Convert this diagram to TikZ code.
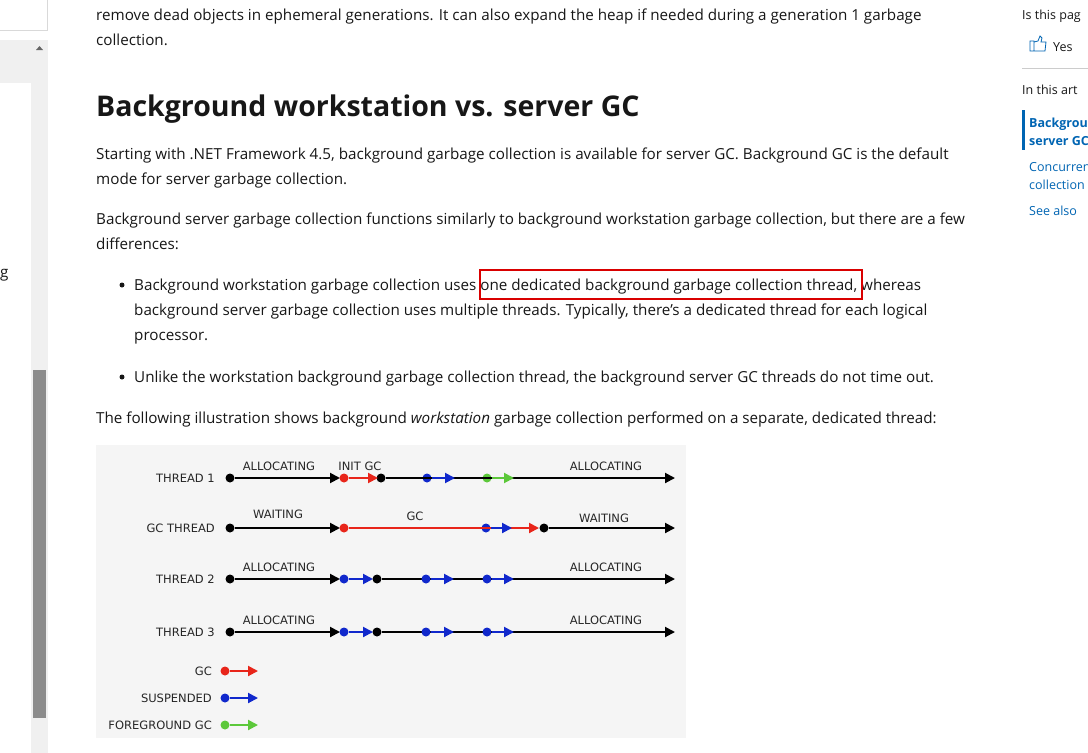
\documentclass[tikz,border=0pt]{standalone}
\usepackage{fontspec}
\setmainfont{Open Sans}
\newfontfamily\dg{DejaVu Sans}
\usetikzlibrary{arrows.meta,calc}
\definecolor{txt}{HTML}{171717}
\definecolor{lnk}{HTML}{0065B3}
\definecolor{gcred}{HTML}{E8251A}
\definecolor{susb}{HTML}{1028CC}
\definecolor{fgg}{HTML}{5CC83A}
\tikzset{
 body/.style={anchor=base west,inner sep=0,font=\fontsize{15.2}{18}\selectfont,text=txt},
 side/.style={anchor=base west,inner sep=0,font=\fontsize{12.5}{15}\selectfont},
 sideb/.style={anchor=base west,inner sep=0,font=\fontsize{12.5}{15}\selectfont\bfseries},
 lab/.style={inner sep=0,font=\dg\fontsize{11.5}{13}\selectfont,text=black!85},
 tl/.style={line width=2pt,-{Triangle[length=10pt,width=10pt]}},
 dot/.style={circle,fill,inner sep=0,minimum size=9pt},
}
\begin{document}
\begin{tikzpicture}[x=1pt,y=-1pt]
\useasboundingbox (0,0) rectangle (1088,753);
\clip (0,0) rectangle (1088,753);
\fill[white] (0,0) rectangle (1088,753);
% left sidebar
\draw[black!15,fill=white] (-2,-2) rectangle (47,30);
\fill[black!6] (0,40) rectangle (31,83);
\fill[black!6] (31,40) rectangle (48,753);
\fill[black!45] (33,370) rectangle (46,718);
\fill[black!60] (36,50) -- (43,50) -- (39.5,46) -- cycle;
\node[body,anchor=base west] (g) at (0,277) {g};
% main text
\node[body] (t1) at (96,20) {remove dead objects in ephemeral generations. It can also expand the heap if needed during a generation 1 garbage};
\node[body] (t2) at (96,45) {collection.};
\node[anchor=base west,inner sep=0,font=\fontsize{28.5}{34}\selectfont\bfseries,text=txt] (h) at (96,116) {Background workstation vs. server GC};
\node[body] (p1) at (96,159) {Starting with .NET Framework 4.5, background garbage collection is available for server GC. Background GC is the default};
\node[body] (p2) at (96,184) {mode for server garbage collection.};
\node[body] (p3) at (96,224) {Background server garbage collection functions similarly to background workstation garbage collection, but there are a few};
\node[body] (p4) at (96,249) {differences:};
\fill[txt] (122,285) circle (2.5pt);
\node[body] (b1) at (134,290) {Background workstation garbage collection uses one dedicated background garbage collection thread, whereas};
\node[body] (b2) at (134,315) {background server garbage collection uses multiple threads. Typically, there's a dedicated thread for each logical};
\node[body] (b3) at (134,340) {processor.};
\fill[txt] (122,377) circle (2.5pt);
\node[body] (b4) at (134,382) {Unlike the workstation background garbage collection thread, the background server GC threads do not time out.};
\node[body] (p5) at (96,423) {The following illustration shows background \emph{workstation} garbage collection performed on a separate, dedicated thread:};
\draw[red!85!black,line width=1.5pt] (480,270) rectangle (862,299);
% right column
\node[side,text=txt] (r1) at (1022,19) {Is this pag};
\draw[lnk,line width=0.8pt] (1030,41) -- (1034,41) -- (1034,51) -- (1030,51) -- cycle (1034,42) -- (1038,41) -- (1040,36) -- (1042,38) -- (1041,42) -- (1046,42) -- (1045,51) -- (1034,51);
\node[side,text=txt] (yes) at (1053,51) {Yes};
\draw[black!20] (1022,68) -- (1088,68);
\node[side,text=txt] (r2) at (1022,94) {In this art};
\fill[lnk] (1022,110) rectangle (1025,150);
\node[sideb,text=lnk] (l1) at (1029,127) {Backgrou};
\node[sideb,text=lnk] (l2) at (1029,145) {server GC};
\node[side,text=lnk] (l3) at (1029,171) {Concurren};
\node[side,text=lnk] (l4) at (1029,189) {collection};
\node[side,text=lnk] (l5) at (1029,215) {See also};
% diagram
\fill[black!4] (96,445) rectangle (686,738);
\foreach \n/\y/\t in {a/478/THREAD 1,b/528/GC THREAD,c/579/THREAD 2,d/632/THREAD 3}{
  \node[lab,anchor=east] (lab\n) at (215,\y) {\t};
  \node[dot] (s\n) at (230,\y) {};
  \coordinate (e\n) at (675,\y);
}
% thread 1
\draw[tl] (sa) -- ($(sa)+(110,0)$);
\node[dot,gcred] (a1) at (344,478) {}; \coordinate (a1e) at (378,478);
\node[dot] (a2) at (381,478) {};
\node[dot,susb] (a3) at (427,478) {}; \coordinate (a3e) at (455,478);
\node[dot,fgg] (a4) at (487,478) {}; \coordinate (a4e) at (514,478);
\draw[tl] (a2) -- (ea);
\draw[tl,gcred] (a1) -- (a1e);
\draw[tl,susb] (a3) -- (a3e);
\draw[tl,fgg] (a4) -- (a4e);
% gc thread
\draw[tl] (sb) -- ($(sb)+(110,0)$);
\node[dot,gcred] (b1d) at (344,528) {};
\node[dot,susb] (b2d) at (486,528) {}; \coordinate (b2e) at (512,528);
\coordinate (b3e) at (539,528);
\node[dot] (b4d) at (544,528) {};
\draw[tl,gcred] (b1d) -- (b3e);
\draw[tl,susb] (b2d) -- (b2e);
\draw[tl] (b4d) -- (eb);
% thread 2,3
\foreach \n/\y in {c/579,d/632}{
  \draw[tl] (s\n) -- (340,\y);
  \node[dot] (\n k) at (377,\y) {};
  \draw[tl] (\n k) -- (e\n);
  \node[dot,susb] (\n1) at (344,\y) {}; \draw[tl,susb] (\n1) -- (373,\y);
  \node[dot,susb] (\n2) at (426,\y) {}; \draw[tl,susb] (\n2) -- (454,\y);
  \node[dot,susb] (\n3) at (487,\y) {}; \draw[tl,susb] (\n3) -- (514,\y);
}
\foreach \n/\y in {a/466,c/567,d/620}{
  \node[lab] (al\n) at (279,\y) {ALLOCATING};
  \node[lab] (ar\n) at (606,\y) {ALLOCATING};
}
\node[lab] (ig) at (360,466) {INIT GC};
\node[lab] (w1) at (278,514) {WAITING};
\node[lab] (gcl) at (415,516) {GC};
\node[lab] (w2) at (604,518) {WAITING};
% legend
\foreach \n/\y/\t/\c in {x/671/GC/gcred,y/698/SUSPENDED/susb,z/725/FOREGROUND GC/fgg}{
  \node[lab,anchor=east] (lg\n) at (212,\y) {\t};
  \node[dot,\c] (ld\n) at (225,\y) {};
  \coordinate (le\n) at (258,\y);
  \draw[tl,\c] (ld\n) -- (le\n);
}
\end{tikzpicture}
\end{document}
